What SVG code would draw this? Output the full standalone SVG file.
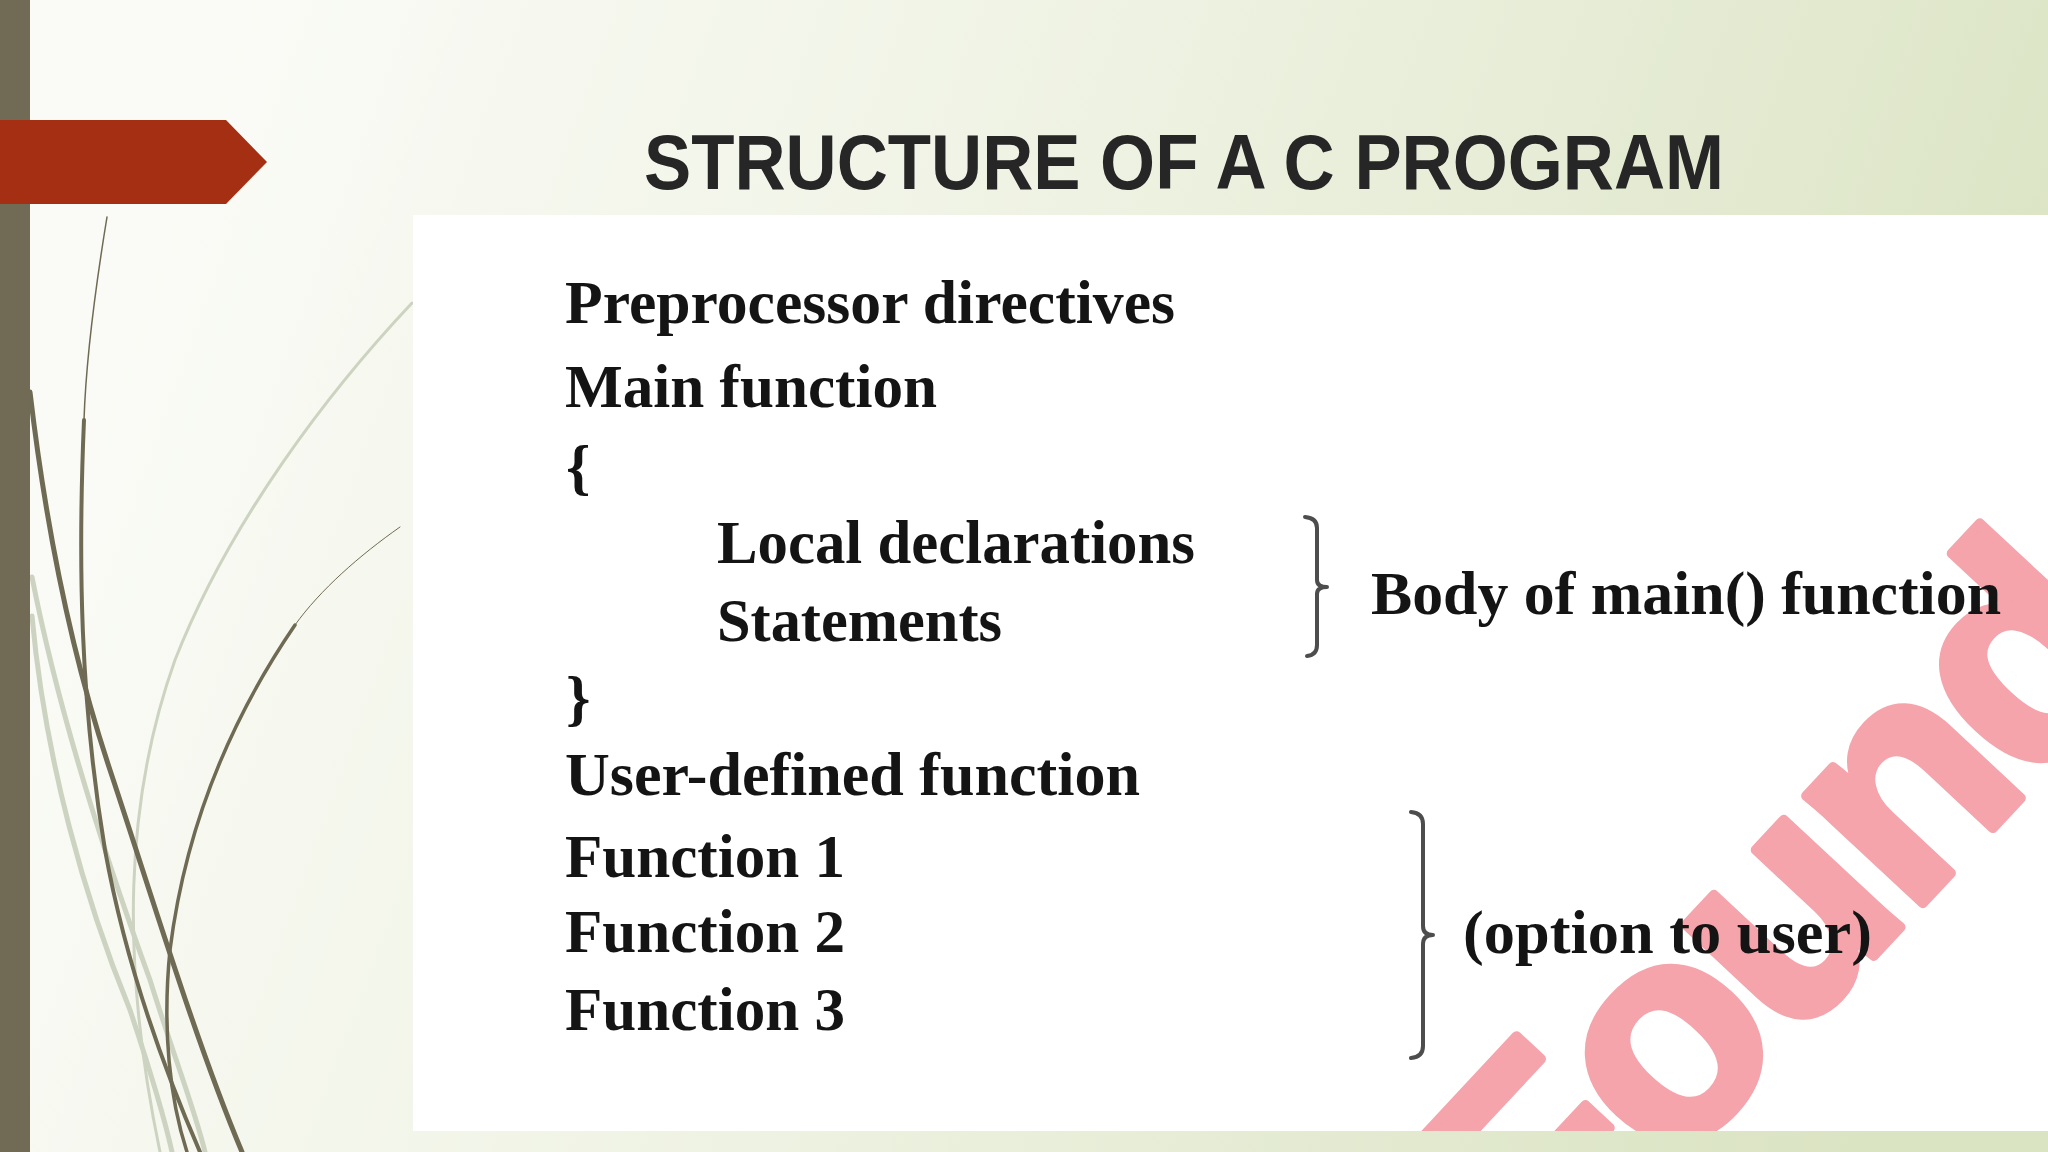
<svg xmlns="http://www.w3.org/2000/svg" width="2048" height="1152" viewBox="0 0 2048 1152">
  <defs>
    <linearGradient id="bg" gradientUnits="userSpaceOnUse" x1="250" y1="0" x2="2048" y2="650">
      <stop offset="0" stop-color="#fafbf6"/>
      <stop offset="0.45" stop-color="#eef2e2"/>
      <stop offset="1" stop-color="#dae3c2"/>
    </linearGradient>
    <clipPath id="panelClip">
      <rect x="413" y="215" width="1635" height="916"/>
    </clipPath>
  </defs>
  <style>
    .code { font-family: "Liberation Serif", "Times New Roman", serif; font-weight: bold; font-size: 62px; fill: #141414; }
    .title { font-family: "Liberation Sans", Arial, sans-serif; font-weight: bold; font-size: 78px; fill: #262626; }
    .dark { fill: none; stroke: #6f6a53; stroke-linecap: round; }
    .light { fill: none; stroke: #cdd3c1; stroke-linecap: round; }
    .brace { fill: none; stroke: #4d4d4d; stroke-width: 4; stroke-linecap: round; stroke-linejoin: round; }
  </style>

  <!-- background -->
  <rect x="0" y="0" width="2048" height="1152" fill="url(#bg)"/>

  <!-- decorative curves -->
  <g id="curves">
    <path class="light" stroke-width="3" d="M412,303 C330,390 230,520 175,660 C125,800 120,960 160,1152"/>
    <path class="light" stroke-width="5" d="M32,577 C60,720 110,870 150,980 C175,1060 195,1110 205,1152"/>
    <path class="light" stroke-width="5" d="M32,616 C45,760 85,900 130,1010 C150,1070 165,1120 172,1152"/>
    <path class="dark" stroke-width="5" d="M30,392 C45,520 70,650 110,770 C150,890 195,1040 242,1152"/>
    <path class="dark" stroke-width="1.5" d="M107,217 C95,290 86,360 84,420"/>
    <path class="dark" stroke-width="4" d="M84,420 C78,560 80,700 105,850 C125,960 160,1060 200,1152"/>
    <path class="dark" stroke-width="1" d="M400,527 C360,555 320,590 295,625"/>
    <path class="dark" stroke-width="3.5" d="M295,625 C230,720 185,830 170,950 C162,1030 170,1100 187,1152"/>
  </g>

  <!-- left bar -->
  <rect id="leftBar" x="0" y="0" width="30" height="1152" fill="#716b55"/>

  <!-- red arrow tab -->
  <g id="arrowTab">
    <polygon points="0,120 226,120 267,162 226,204 0,204" fill="#a52f12"/>
  </g>

  <!-- title -->
  <g id="title">
    <text class="title" x="644" y="189" textLength="1080" lengthAdjust="spacingAndGlyphs">STRUCTURE OF A C PROGRAM</text>
  </g>

  <!-- white picture panel -->
  <rect id="panel" x="413" y="215" width="1635" height="916" fill="#ffffff"/>

  <!-- watermark -->
  <g id="watermark" clip-path="url(#panelClip)">
    <text x="1550" y="1303" transform="rotate(-47 1550 1303)" font-family="Liberation Sans, Arial, sans-serif" font-weight="bold" font-size="300" letter-spacing="-8" fill="#f4a4aa" stroke="#f4a4aa" stroke-width="10" stroke-linejoin="round">Found</text>
  </g>

  <!-- code lines -->
  <g id="preprocessor"><text class="code" x="565" y="323" textLength="610" lengthAdjust="spacingAndGlyphs">Preprocessor directives</text></g>
  <g id="mainFunction"><text class="code" x="565" y="407" textLength="372" lengthAdjust="spacingAndGlyphs">Main function</text></g>
  <g id="openBrace"><text class="code" x="566" y="488">{</text></g>
  <g id="localDeclarations"><text class="code" x="717" y="563" textLength="478" lengthAdjust="spacingAndGlyphs">Local declarations</text></g>
  <g id="statements"><text class="code" x="717" y="641" textLength="285" lengthAdjust="spacingAndGlyphs">Statements</text></g>
  <g id="closeBrace"><text class="code" x="566" y="719">}</text></g>
  <g id="userDefined"><text class="code" x="565" y="795" textLength="575" lengthAdjust="spacingAndGlyphs">User-defined function</text></g>
  <g id="function1"><text class="code" x="565" y="877" textLength="280" lengthAdjust="spacingAndGlyphs">Function 1</text></g>
  <g id="function2"><text class="code" x="565" y="952" textLength="280" lengthAdjust="spacingAndGlyphs">Function 2</text></g>
  <g id="function3"><text class="code" x="565" y="1030" textLength="280" lengthAdjust="spacingAndGlyphs">Function 3</text></g>

  <!-- annotations -->
  <g id="bodyLabel"><text class="code" x="1371" y="614" textLength="630" lengthAdjust="spacingAndGlyphs">Body of main() function</text></g>
  <g id="optionLabel"><text class="code" x="1463" y="953" textLength="409" lengthAdjust="spacingAndGlyphs">(option to user)</text></g>

  <!-- braces -->
  <g id="connectors">
    <path class="brace" d="M1305,517 Q1317,518 1317,528 L1317,580 Q1317,587 1327,587 Q1317,587 1317,594 L1317,645 Q1317,655 1307,656"/>
    <path class="brace" d="M1411,812 Q1423,813 1423,824 L1423,926 Q1423,935 1433,935 Q1423,935 1423,944 L1423,1046 Q1423,1057 1411,1058"/>
  </g>
</svg>
